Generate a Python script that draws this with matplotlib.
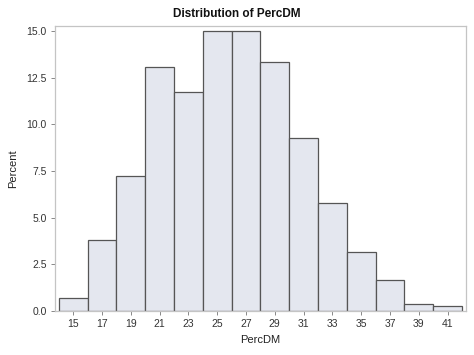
import matplotlib
matplotlib.use("Agg")
import matplotlib.pyplot as plt

centers = [15, 17, 19, 21, 23, 25, 27, 29, 31, 33, 35, 37, 39, 41]
percents = [0.70, 3.80, 7.22, 13.10, 11.75, 15.0, 15.0, 13.32, 9.25, 5.77, 3.14, 1.68, 0.36, 0.25]
bin_width = 2
yticks = [0.0, 2.5, 5.0, 7.5, 10.0, 12.5, 15.0]

plt.rcParams['font.family'] = ['Liberation Sans', 'DejaVu Sans']

fig = plt.figure(figsize=(4.74, 3.55), dpi=100)
ax = fig.add_axes([55/474, 1 - 311/355, (466-55)/474, (311-26)/355])

ax.bar(centers, percents, width=bin_width, color='#e4e7ef', edgecolor='#555555', linewidth=0.9, zorder=2)

ax.set_xlim(13.74, 42.28)
ax.set_ylim(0, 15.27)
ax.set_xticks(centers)
ax.set_xticklabels([str(c) for c in centers])
ax.set_yticks(yticks)
ax.set_yticklabels([f"{v:.1f}" for v in yticks])
ax.tick_params(labelsize=7.5, colors='#333333', length=3, width=0.7, pad=3)
ax.tick_params(axis='both', color='#888888')
for s in ax.spines.values():
    s.set_color('#c4c4c4')
    s.set_linewidth(0.9)

ax.set_xlabel('PercDM', fontsize=8, color='#222222', labelpad=4)
ax.set_ylabel('Percent', fontsize=8, color='#222222', labelpad=6)
fig.text(0.5, 1 - 14/355, 'Distribution of PercDM', ha='center', va='center', fontsize=8.5, fontweight='bold', color='#111111')

fig.savefig('out.png', dpi=100)
